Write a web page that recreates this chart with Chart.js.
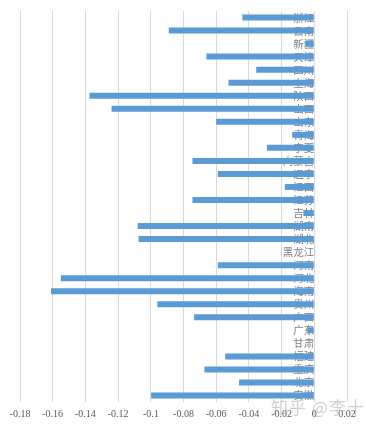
<!DOCTYPE html>
<html>
<head>
<meta charset="utf-8">
<script src="https://cdn.jsdelivr.net/npm/chart.js@4"></script>
<style>
  body { margin: 0; background: #fff; }
  #wrap { position: relative; width: 366px; height: 424px; }
  .mark { position: absolute; left: 271px; top: 394px; font: 17px "Noto Sans CJK SC"; letter-spacing: 1px; color: rgba(160,160,160,0.5); }
</style>
</head>
<body>
<div id="wrap">
  <canvas id="chart" width="366" height="424"></canvas>
  <div class="mark">知乎 @李十一</div>
</div>
<script>
// provinces, top to bottom as shown
const provinces = ['浙江', '云南', '新疆', '天津', '四川', '上海', '陕西', '山西', '山东', '青海',
  '宁夏', '内蒙古', '辽宁', '江西', '江苏', '吉林', '湖南', '湖北', '黑龙江', '河南',
  '河北', '海南', '贵州', '广西', '广东', '甘肃', '福建', '重庆', '北京', '安徽'];

const values = [-0.044, -0.089, -0.0055, -0.066, -0.0355, -0.0525, -0.1375, -0.124, -0.060, -0.0135,
  -0.029, -0.0745, -0.059, -0.018, -0.0745, -0.0067, -0.108, -0.1075, 0.0005, -0.059,
  -0.155, -0.161, -0.096, -0.0735, -0.0043, 0, -0.0545, -0.0672, -0.046, -0.0998];

const xTicks = [-0.18, -0.16, -0.14, -0.12, -0.1, -0.08, -0.06, -0.04, -0.02, 0, 0.02];

new Chart(document.getElementById('chart'), {
  type: 'bar',
  data: {
    labels: provinces,
    datasets: [{
      data: values,
      backgroundColor: '#5b9bd5',
      barPercentage: 0.46,
      categoryPercentage: 1
    }]
  },
  options: {
    indexAxis: 'y',
    responsive: false,
    animation: false,
    layout: { padding: { left: 20, right: 19, top: 11, bottom: -2 } },
    plugins: { legend: { display: false }, tooltip: { enabled: false } },
    scales: {
      x: {
        min: xTicks[0],
        max: xTicks[xTicks.length - 1],
        afterBuildTicks: (axis) => { axis.ticks = xTicks.map(v => ({ value: v })); },
        grid: { color: '#d9d9d9', drawTicks: false },
        border: { display: false },
        ticks: {
          padding: 6,
          maxRotation: 0,
          color: '#595959',
          font: { family: 'Liberation Serif', size: 10 },
          callback: (v) => String(parseFloat(Number(v).toFixed(2)))
        }
      },
      y: {
        position: { x: 0 },
        z: 1,
        grid: { display: false, drawTicks: false },
        border: { display: false },
        ticks: {
          autoSkip: false,
          padding: 4,
          color: '#808080',
          font: { family: 'Noto Sans CJK SC', size: 10.5 }
        }
      }
    }
  }
});
</script>
</body>
</html>
